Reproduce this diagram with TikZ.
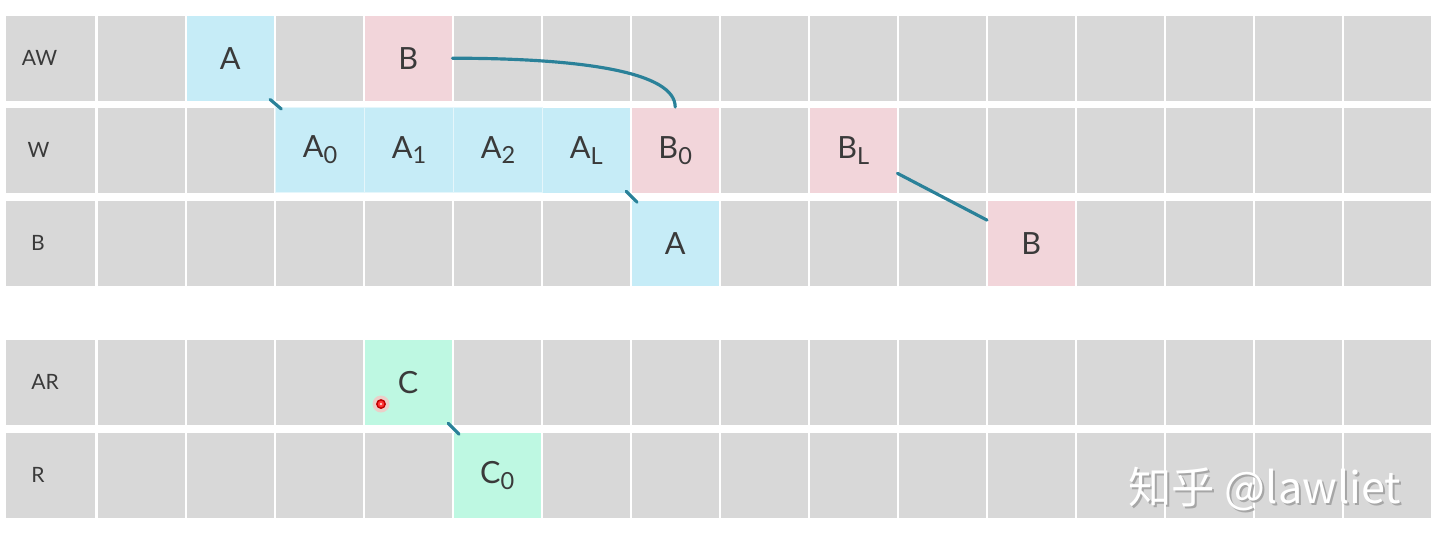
\documentclass[tikz,border=0pt]{standalone}
\usepackage{fontspec}
\setmainfont{Lato}
\newfontfamily\cjkfont{Noto Sans CJK SC}
\definecolor{cellgray}{HTML}{D8D8D8}
\definecolor{slotblue}{HTML}{C6ECF7}
\definecolor{slotpink}{HTML}{F2D5DA}
\definecolor{slotgreen}{HTML}{BEF8E2}
\definecolor{linkteal}{HTML}{2A8199}
\definecolor{inkgray}{HTML}{3A3A3A}
\newcommand\lowsub[1]{\raisebox{-1.7pt}{\fontsize{6.7}{8}\selectfont#1}}
\tikzset{
  cell/.style={rectangle,anchor=north west,inner sep=0pt,minimum width=8.7mm,minimum height=8.5mm,fill=cellgray},
  slot/.style={cell,font=\fontsize{8.7}{10}\selectfont,text=inkgray},
  wide/.style={minimum width=8.9mm,draw=white!55!slotblue,line width=.3pt},
  rowlab/.style={font=\fontsize{6}{7}\selectfont,text=inkgray},
  link/.style={draw=linkteal,line width=.9pt},
  tick/.style={link,shorten <=-.3mm,shorten >=-.3mm},
  wmark/.style={anchor=base west,inner sep=0pt,font=\cjkfont\fontsize{12.3}{14}\selectfont},
}
\begin{document}
\begin{tikzpicture}[line join=round,line cap=round]
				\useasboundingbox[fill=white] (0,0) rectangle (14.4,-5.5);
				\foreach \r/\y/\lx/\lab in {aw/0.15/0.395/AW,w/1.07/0.385/W,b/2.00/0.38/B,ar/3.39/0.45/AR,r/4.32/0.38/R}{
					\node[cell,minimum width=8.9mm] (\r-0) at (0.05,-\y) {};
					\node[rowlab] (\r-lab) at (\lx,{-\y-0.425}) {\lab};
					\foreach \c in {1,...,15}
						\node[cell] (\r-\c) at ({0.08+0.89*\c},-\y) {};
				}
				\path
				(aw-2.north west) node[slot,fill=slotblue] (awA) {A}
				(aw-4.north west) node[slot,fill=slotpink] (awB) {B}
				(w-3.north west) node[slot,wide,fill=slotblue] (wA0) {A\lowsub{0}}
				(w-4.north west) node[slot,wide,fill=slotblue] (wA1) {A\lowsub{1}}
				(w-5.north west) node[slot,wide,fill=slotblue] (wA2) {A\lowsub{2}}
				(w-6.north west) node[slot,fill=slotblue] (wAL) {A\lowsub{L}}
				(w-7.north west) node[slot,fill=slotpink] (wB0) {B\lowsub{0}}
				(w-9.north west) node[slot,fill=slotpink] (wBL) {B\lowsub{L}}
				(b-7.north west) node[slot,fill=slotblue] (bA) {A}
				(b-11.north west) node[slot,fill=slotpink] (bB) {B}
				(ar-4.north west) node[slot,fill=slotgreen] (arC) {C}
				(r-5.north west) node[slot,fill=slotgreen] (rC0) {C\lowsub{0}}
				;
				\draw[tick] ([xshift=-.2mm]awA.south east)--([xshift=.4mm]wA0.north west);
				\draw[tick] ([xshift=-.2mm]wAL.south east)--([xshift=.4mm]bA.north west);
				\draw[tick] ([xshift=-.2mm]arC.south east)--([xshift=.4mm]rC0.north west);
				\draw[link] (awB.east) .. controls +(1.3,0) and +(0,0.35) .. (wB0.north);
				\draw[link] (wBL)--(bB);
				% cursor mark
				\fill[red!25,opacity=.7] (3.81,-4.04) circle (.085);
				\draw[red!75!black,fill=red!80] (3.81,-4.04) circle (.042);
				\fill[red!20] (3.81,-4.04) circle (.014);
				% watermark
				\node[wmark,text=gray!70] (markshade) at (11.30,-5.05) {知乎 @lawliet};
				\node[wmark,text=white] (mark) at (11.28,-5.03) {知乎 @lawliet};
		\end{tikzpicture}
\end{document}
